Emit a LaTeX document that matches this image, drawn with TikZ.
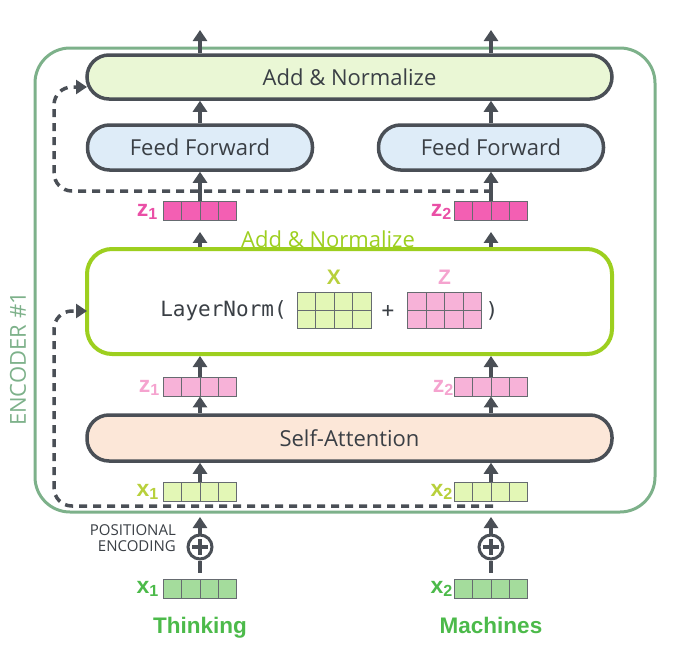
\documentclass[tikz,border=0pt]{standalone}
\usepackage{fontspec}
\setmainfont{Open Sans}
\newfontfamily\labf{Liberation Sans}
\newfontfamily\monof{DejaVu Sans Mono}
\usetikzlibrary{arrows.meta,calc}
\definecolor{dgray}{HTML}{4A4F56}
\definecolor{txtgray}{HTML}{3A3F45}
\definecolor{encgreen}{HTML}{7DB18A}
\definecolor{addfill}{HTML}{EAF7D5}
\definecolor{fffill}{HTML}{DEECF8}
\definecolor{safill}{HTML}{FCE7D8}
\definecolor{lngreen}{HTML}{9DCF1F}
\definecolor{pinkhot}{HTML}{F35FB3}
\definecolor{pinklight}{HTML}{F7B2D8}
\definecolor{xlight}{HTML}{E3F7B6}
\definecolor{xgreen}{HTML}{A4DC9C}
\definecolor{zhotlab}{HTML}{EA4FA6}
\definecolor{zlightlab}{HTML}{F5A3CF}
\definecolor{xyellab}{HTML}{B8D03C}
\definecolor{xgreenlab}{HTML}{4CBA4A}
\definecolor{cellc}{HTML}{666B70}
\begin{document}
\begin{tikzpicture}[x=1pt,y=-1pt,
  box/.style={draw=dgray, line width=3.5pt, rounded corners=22pt, inner sep=0pt,
    text=txtgray, font=\fontsize{22}{26}\selectfont},
  vec/.style={draw=cellc, line width=0.9pt, minimum width=73pt, minimum height=19pt, inner sep=0pt,
    path picture={\foreach \i in {1,2,3}{\draw[cellc, line width=0.9pt]
      ($(path picture bounding box.north west)!\i/4!(path picture bounding box.north east)$) --
      ($(path picture bounding box.south west)!\i/4!(path picture bounding box.south east)$);}}},
  mat/.style={draw=cellc, line width=0.9pt, minimum width=74pt, minimum height=36pt, inner sep=0pt,
    path picture={\foreach \i in {1,2,3}{\draw[cellc, line width=0.9pt]
      ($(path picture bounding box.north west)!\i/4!(path picture bounding box.north east)$) --
      ($(path picture bounding box.south west)!\i/4!(path picture bounding box.south east)$);}
      \draw[cellc, line width=0.9pt] (path picture bounding box.west) -- (path picture bounding box.east);}},
  lab/.style={font=\labf\bfseries\fontsize{23}{25}\selectfont, anchor=east, inner sep=0pt},
  arr/.style={draw=dgray, line width=3.5pt, -{Triangle[width=14pt,length=11pt]}},
  resid/.style={draw=dgray, line width=3.5pt, dash pattern=on 8pt off 6pt, rounded corners=18pt,
    -{Triangle[width=14pt,length=11pt]}},
  pesym/.style={circle, draw=dgray, line width=3pt, minimum size=24pt, inner sep=0pt,
    path picture={\draw[dgray, line width=3.5pt]
      ($(path picture bounding box.center)+(-8,0)$) -- ($(path picture bounding box.center)+(8,0)$)
      ($(path picture bounding box.center)+(0,-8)$) -- ($(path picture bounding box.center)+(0,8)$);}},
  word/.style={font=\labf\bfseries\fontsize{22.5}{26}\selectfont, text=xgreenlab, anchor=base}
]
\useasboundingbox (0,0) rectangle (673,653);

% encoder frame
\draw[encgreen, line width=3pt, rounded corners=35pt] (35,48) rectangle (655,512);
\node[rotate=90, text=encgreen, font=\fontsize{22}{24}\selectfont] (enc) at (18,359) {ENCODER \#1};

% main boxes
\node[box, fill=addfill, minimum width=525pt, minimum height=44pt] (addtop) at (349.5,77) {Add \& Normalize};
\node[box, fill=fffill, minimum width=225pt, minimum height=45pt] (ff1) at (200,147.5) {Feed Forward};
\node[box, fill=fffill, minimum width=225pt, minimum height=45pt] (ff2) at (491,147.5) {Feed Forward};
\node[draw=lngreen, line width=4pt, rounded corners=25pt, fill=white, minimum width=525pt, minimum height=105pt] (ln) at (349.5,301.5) {};
\node[box, fill=safill, minimum width=525pt, minimum height=46pt] (sa) at (349.5,438) {Self-Attention};

\node[text=lngreen, font=\fontsize{22}{26}\selectfont] (lntitle) at (328,239) {Add \& Normalize};

% LayerNorm contents
\node[font=\monof\fontsize{21}{24}\selectfont, text=txtgray] (lnword) at (223.5,311) {LayerNorm(};
\node[mat, fill=xlight] (xm) at (334,310) {};
\node[mat, fill=pinklight] (zm) at (444.5,310) {};
\node[font=\monof\fontsize{21}{24}\selectfont, text=txtgray] (plus) at (388,311) {+};
\node[font=\monof\fontsize{21}{24}\selectfont, text=txtgray] (rpar) at (492,311) {)};
\node[font=\labf\bfseries\fontsize{21}{24}\selectfont, text=xyellab] (xlab) at (334,277) {X};
\node[font=\labf\bfseries\fontsize{21}{24}\selectfont, text=zlightlab] (zlab) at (444.5,277) {Z};

% vectors
\node[vec, fill=pinkhot] (z1t) at (200,211) {};
\node[vec, fill=pinkhot] (z2t) at (491,211) {};
\node[vec, fill=pinklight] (z1l) at (200,386.5) {};
\node[vec, fill=pinklight] (z2l) at (491,386.5) {};
\node[vec, fill=xlight] (x1u) at (200,491.5) {};
\node[vec, fill=xlight] (x2u) at (491,491.5) {};
\node[vec, fill=xgreen] (x1b) at (200,588.5) {};
\node[vec, fill=xgreen] (x2b) at (491,588.5) {};

% vector labels
\node[lab, text=zhotlab] (z1tl) at (158,212) {z\textsubscript{1}};
\node[lab, text=zhotlab] (z2tl) at (452,212) {z\textsubscript{2}};
\node[lab, text=zlightlab] (z1ll) at (160,388) {z\textsubscript{1}};
\node[lab, text=zlightlab] (z2ll) at (454,388) {z\textsubscript{2}};
\node[lab, text=xyellab] (x1ul) at (159,492) {x\textsubscript{1}};
\node[lab, text=xyellab] (x2ul) at (453,492) {x\textsubscript{2}};
\node[lab, text=xgreenlab] (x1bl) at (159,589) {x\textsubscript{1}};
\node[lab, text=xgreenlab] (x2bl) at (453,589) {x\textsubscript{2}};

% positional encoding
\node[pesym] (pe1) at (200,547) {};
\node[pesym] (pe2) at (491,547) {};
\node[anchor=east, align=right, text=txtgray, font=\fontsize{15}{16}\selectfont, inner sep=0pt] (petext) at (176,538) {POSITIONAL\\ENCODING};

% words
\node[word] (w1) at (200,633) {Thinking};
\node[word] (w2) at (491,633) {Machines};

% coordinates
\coordinate (out1) at (200,30);
\coordinate (out2) at (491,30);
\coordinate (in1) at (200,517);
\coordinate (in2) at (491,517);
\coordinate (r1) at (492,191);
\coordinate (tip1) at (87,87);
\coordinate (r2) at (493,506);
\coordinate (tip2) at (87,311);

% residual dashed connections
\draw[resid] (r1) -- (54,191) -- (54,87) -- (tip1);
\draw[resid] (r2) -- (54,506) -- (54,311) -- (tip2);

% arrows
\draw[arr] (addtop.north -| out1) -- (out1);
\draw[arr] (addtop.north -| out2) -- (out2);
\draw[arr] (ff1.north) -- (ff1.north |- addtop.south);
\draw[arr] (ff2.north) -- (ff2.north |- addtop.south);
\draw[arr] (z1t.north) -- (ff1.south);
\draw[arr] (z2t.north) -- (ff2.south);
\draw[arr, shorten >=11pt] (ln.north -| z1t) -- (z1t.south);
\draw[arr, shorten >=11pt] (ln.north -| z2t) -- (z2t.south);
\draw[arr] (z1l.north) -- (z1l.north |- ln.south);
\draw[arr] (z2l.north) -- (z2l.north |- ln.south);
\draw[arr] (sa.north -| z1l) -- (z1l.south);
\draw[arr] (sa.north -| z2l) -- (z2l.south);
\draw[arr] (x1u.north) -- (x1u.north |- sa.south);
\draw[arr] (x2u.north) -- (x2u.north |- sa.south);
\draw[arr] (pe1.north) -- (in1);
\draw[arr] (pe2.north) -- (in2);
\draw[dgray, line width=3.5pt, shorten <=6pt] (x1b.north) -- (pe1.south);
\draw[dgray, line width=3.5pt, shorten <=6pt] (x2b.north) -- (pe2.south);
\end{tikzpicture}
\end{document}
